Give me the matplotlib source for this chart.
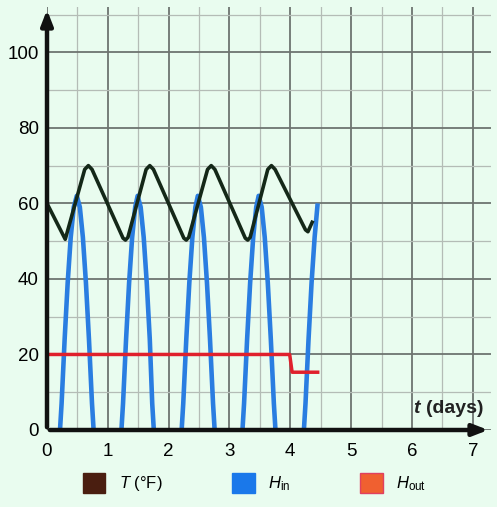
import matplotlib
matplotlib.use("Agg")
import matplotlib.pyplot as plt
import numpy as np
from matplotlib.patches import Patch

plt.rcParams['font.family'] = ['Liberation Sans', 'DejaVu Sans']
plt.rcParams['mathtext.fontset'] = 'custom'
plt.rcParams['mathtext.rm'] = 'Liberation Sans'
plt.rcParams['mathtext.it'] = 'Liberation Sans:italic'

# temperature T (deg F)
t_T = [0.0, 0.30, 0.62, 0.68, 0.74, 1.25, 1.29, 1.33, 1.63, 1.69, 1.75, 2.25, 2.29, 2.33,
       2.64, 2.70, 2.76, 3.26, 3.30, 3.34, 3.63, 3.69, 3.75, 4.25, 4.29, 4.36]
T = [60, 50.5, 69, 70, 69, 50.8, 50.3, 51, 69, 70, 69, 50.8, 50.3, 51,
     69, 70, 69, 50.8, 50.3, 51, 69, 70, 69, 53, 52.5, 55]

# heat in, one arch per day (NaN splits the arches)
t_Hin = [0.21, 0.24, 0.29, 0.34, 0.39, 0.44, 0.49, 0.54, 0.59, 0.64, 0.69, 0.74, 0.77, np.nan,
         1.22, 1.25, 1.30, 1.35, 1.40, 1.45, 1.49, 1.54, 1.59, 1.64, 1.69, 1.73, 1.76, np.nan,
         2.21, 2.24, 2.29, 2.34, 2.39, 2.44, 2.48, 2.53, 2.58, 2.63, 2.68, 2.73, 2.76, np.nan,
         3.21, 3.24, 3.29, 3.34, 3.39, 3.44, 3.48, 3.53, 3.58, 3.63, 3.68, 3.73, 3.76, np.nan,
         4.22, 4.25, 4.30, 4.35, 4.40, 4.45]
H_in = [-1, 7, 24, 39, 51, 59, 62, 59, 51, 39, 24, 7, -1, np.nan,
        -1, 7, 24, 39, 51, 59, 62, 59, 51, 39, 24, 7, -1, np.nan,
        -1, 7, 24, 39, 51, 59, 62, 59, 51, 39, 24, 7, -1, np.nan,
        -1, 7, 24, 39, 51, 59, 62, 59, 51, 39, 24, 7, -1, np.nan,
        -1, 7, 24, 39, 51, 60]

# heat out
t_Hout = [0.0, 3.99, 4.03, 4.45]
H_out = [20, 20, 15.3, 15.3]

x_ticks = [0, 1, 2, 3, 4, 5, 6, 7]
y_ticks = [0, 20, 40, 60, 80, 100]

bg = '#e9fcef'
fig = plt.figure(figsize=(4.97, 5.07), dpi=100, facecolor=bg)
ax = fig.add_axes([47 / 497, 77 / 507, 444 / 497, 423 / 507], facecolor=bg)

ax.plot(t_Hin, H_in, color='#2a7de1', lw=3.3, solid_capstyle='butt', zorder=3)
ax.plot(t_T, T, color='#142818', lw=2.6, zorder=4)
ax.plot(t_Hout, H_out, color='#e0202c', lw=2.5, zorder=5)

ax.set_xlim(0, 7.3)
ax.set_ylim(0, 112)
ax.set_xticks(x_ticks)
ax.set_yticks(y_ticks)
ax.set_xticks(np.arange(0.5, 7.3, 1.0), minor=True)
ax.set_yticks([10, 30, 50, 70, 90, 110], minor=True)
ax.grid(which='major', color='#6e7470', lw=1.3)
ax.grid(which='minor', color='#b4bcb6', lw=0.9)
ax.set_axisbelow(True)
ax.tick_params(which='both', length=0, labelsize=13.5)
ax.tick_params(axis='x', pad=9)
ax.tick_params(axis='y', pad=6)

for s in ax.spines.values():
    s.set_visible(False)

# axis arrows
ax.annotate('', xy=(1.0, 0), xytext=(0, 0), xycoords='axes fraction',
            arrowprops=dict(arrowstyle='-|>,head_length=0.9,head_width=0.35', lw=3.2, color='#111111'),
            annotation_clip=False, zorder=6)
ax.annotate('', xy=(0, 1.0), xytext=(0, 0), xycoords='axes fraction',
            arrowprops=dict(arrowstyle='-|>,head_length=0.9,head_width=0.35', lw=3.2, color='#111111'),
            annotation_clip=False, zorder=6)

ax.text(7.18, 5.8, '(days)', fontsize=14, fontweight='bold', ha='right', va='center', color='#222222')
ax.text(6.12, 5.8, 't', fontsize=14, fontweight='bold', fontstyle='italic', ha='right', va='center',
        color='#222222')

handles = [Patch(facecolor='#4a1e10', edgecolor='#4a1e10'),
           Patch(facecolor='#1a78ea', edgecolor='#1a78ea'),
           Patch(facecolor='#f06030', edgecolor='#e04060')]
labels = [r'$T$ (°F)', r'$H_{\rm in}$', r'$H_{\rm out}$']
fig.legend(handles, labels, loc='center', bbox_to_anchor=(0.512, 24 / 507), ncol=3, frameon=False,
           fontsize=12, handlelength=1.35, handleheight=1.5, columnspacing=4.2, handletextpad=0.8)

fig.savefig('out.png', dpi=100, facecolor=bg)
